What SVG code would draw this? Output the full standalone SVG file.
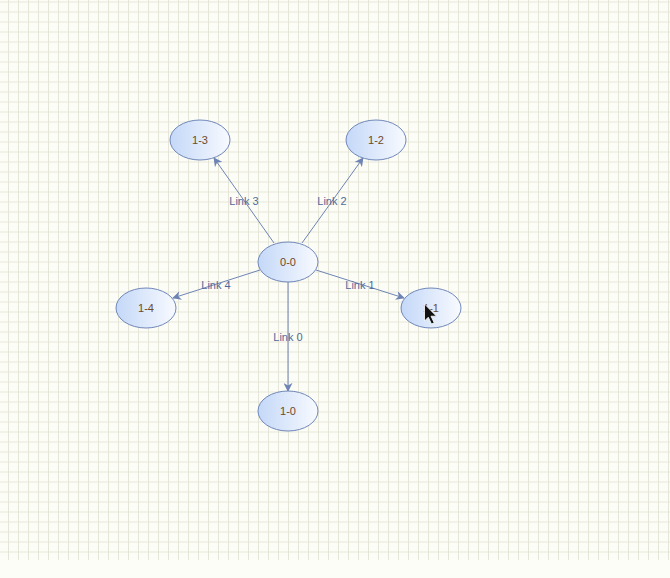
<svg xmlns="http://www.w3.org/2000/svg" width="670" height="578" viewBox="0 0 670 578">
<defs>
<pattern id="grid" x="8" y="1.5" width="10" height="10" patternUnits="userSpaceOnUse">
<path d="M0.5 0V10M0 0.5H10" stroke="#e6e6d8" stroke-width="1" fill="none"/>
</pattern>
<linearGradient id="nf" x1="0" y1="0" x2="1" y2="0">
<stop offset="0" stop-color="#c4d8f8"/>
<stop offset="1" stop-color="#f8faff"/>
</linearGradient>
<marker id="arr" viewBox="0 0 10 10" refX="9" refY="5" markerWidth="9" markerHeight="9" markerUnits="userSpaceOnUse" orient="auto">
<path d="M0 0L10 5L0 10L3 5Z" fill="#6d84b4"/>
</marker>
<style>
.node ellipse{fill:url(#nf);stroke:#7088b8;stroke-width:1}
.node text{font-family:"Liberation Sans",Arial,sans-serif;font-size:11px;fill:#6e4a28;text-anchor:middle;dominant-baseline:central}
.edge line{stroke:#6d84b4;stroke-width:1;marker-end:url(#arr)}
.edge text{font-family:"Liberation Sans",Arial,sans-serif;font-size:11px;fill:#4f6a9a;text-anchor:middle;dominant-baseline:central}
</style>
</defs>
<rect width="670" height="578" fill="#fdfdf8"/>
<rect x="0" y="0" width="670" height="560" fill="url(#grid)"/>
<g id="connectors">
<g class="edge" id="link0"><line x1="288" y1="282" x2="288" y2="391"/><text x="288" y="337">Link 0</text></g>
<g class="edge" id="link1"><line x1="316" y1="270" x2="404" y2="298"/><text x="360" y="285">Link 1</text></g>
<g class="edge" id="link2"><line x1="302" y1="243" x2="363" y2="158"/><text x="332" y="201">Link 2</text></g>
<g class="edge" id="link3"><line x1="274" y1="243" x2="214" y2="158"/><text x="244" y="201">Link 3</text></g>
<g class="edge" id="link4"><line x1="260" y1="270" x2="173" y2="298"/><text x="216" y="285">Link 4</text></g>
</g>
<g class="node" id="n00"><ellipse cx="288" cy="262" rx="30" ry="20"/><text x="288" y="262">0-0</text></g>
<g class="node" id="n13"><ellipse cx="200" cy="140" rx="30" ry="20"/><text x="200" y="140">1-3</text></g>
<g class="node" id="n12"><ellipse cx="376" cy="140" rx="30" ry="20"/><text x="376" y="140">1-2</text></g>
<g class="node" id="n14"><ellipse cx="146" cy="308" rx="30" ry="20"/><text x="146" y="308">1-4</text></g>
<g class="node" id="n11"><ellipse cx="431" cy="308" rx="30" ry="20"/><text x="431" y="308">1-1</text></g>
<g class="node" id="n10"><ellipse cx="288" cy="411" rx="30" ry="20"/><text x="288" y="411">1-0</text></g>
<path d="M424.5 304L424.5 321L428.3 317.2L431.5 324L434.2 322.8L431 316.2L436.5 316.2Z" fill="#111" stroke="#fff" stroke-width="0.8"/>
</svg>
